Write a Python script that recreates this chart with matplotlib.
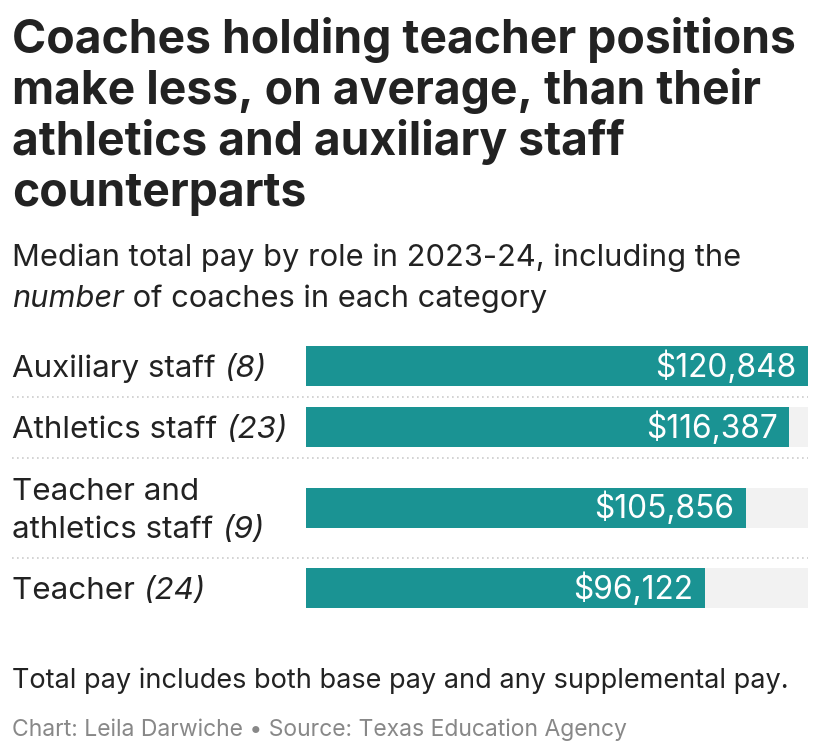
import matplotlib
matplotlib.use("Agg")
import matplotlib.pyplot as plt
from matplotlib.patches import Rectangle

roles = ["Auxiliary staff", "Athletics staff", "Teacher and\nathletics staff", "Teacher"]
counts = [8, 23, 9, 24]
pay = [120848, 116387, 105856, 96122]

title = ("Coaches holding teacher positions\nmake less, on average, than their\n"
         "athletics and auxiliary staff\ncounterparts")
note = "Total pay includes both base pay and any supplemental pay."
credit = "Chart: Leila Darwiche \u2022 Source: Texas Education Agency"

TEAL = "#1a9393"
DARK = "#222222"
W, H = 820, 756

plt.rcParams["font.family"] = ["Inter", "DejaVu Sans"]

fig = plt.figure(figsize=(W / 100, H / 100), dpi=100)
bg = fig.add_axes([0, 0, 1, 1])
bg.set_xlim(0, W)
bg.set_ylim(H, 0)
bg.axis("off")

renderer = fig.canvas.get_renderer()


def text_width(t):
    bb = t.get_window_extent(renderer=renderer)
    return bb.width


def mixed(x, y, parts, size, color=DARK):
    # parts: list of (string, style)
    for s, style in parts:
        t = bg.text(x, y, s, fontsize=size, style=style, color=color, va="baseline", ha="left")
        x += text_width(t)
    return x


# title
for i, line in enumerate(title.split("\n")):
    bg.text(12, 53 + i * 51, line, fontsize=33.3, fontweight="bold", color=DARK, va="baseline")

# subtitle
bg.text(12, 266, "Median total pay by role in 2023-24, including the", fontsize=22.2, color=DARK, va="baseline")
mixed(12, 307, [("number", "italic"), (" of coaches in each category", "normal")], 22.2)

# rows: two-line labels get a taller row
row_top = 336
bar_h = 40
bar_left, bar_right = 306, 808
ax = fig.add_axes([bar_left / W, 0, (bar_right - bar_left) / W, 1])
ax.set_xlim(0, max(pay))
ax.set_ylim(H, 0)
ax.axis("off")

y = row_top
for i, (role, n, v) in enumerate(zip(roles, counts, pay)):
    nlines = role.count("\n") + 1
    row_h = 61 if nlines == 1 else 100
    cy = y + row_h / 2 - 0.5
    ax.add_patch(Rectangle((0, cy - bar_h / 2), max(pay), bar_h, color="#f2f2f2", lw=0))
    ax.barh(cy, v, height=bar_h, color=TEAL, lw=0)
    ax.text(v - max(pay) * 12 / (bar_right - bar_left), cy + 11, f"${v:,}", color="white",
            fontsize=22.8, ha="right", va="baseline")
    lines = role.split("\n")
    base0 = cy + 11 - (nlines - 1) * 19
    for j, ln in enumerate(lines):
        parts = [(ln, "normal")]
        if j == nlines - 1:
            parts = [(ln + " ", "normal"), (f"({n})", "italic")]
        mixed(12, base0 + j * 38, parts, 22.6)
    y += row_h
    if i < len(roles) - 1:
        bg.plot([12, bar_right], [y, y], color="#cccccc", lw=1.2, ls=(0, (1, 2)))

bg.text(12, 688, note, fontsize=19.5, color=DARK, va="baseline")
bg.text(12, 736, credit, fontsize=16.5, color="#888888", va="baseline")

fig.savefig("out.png", dpi=100)
